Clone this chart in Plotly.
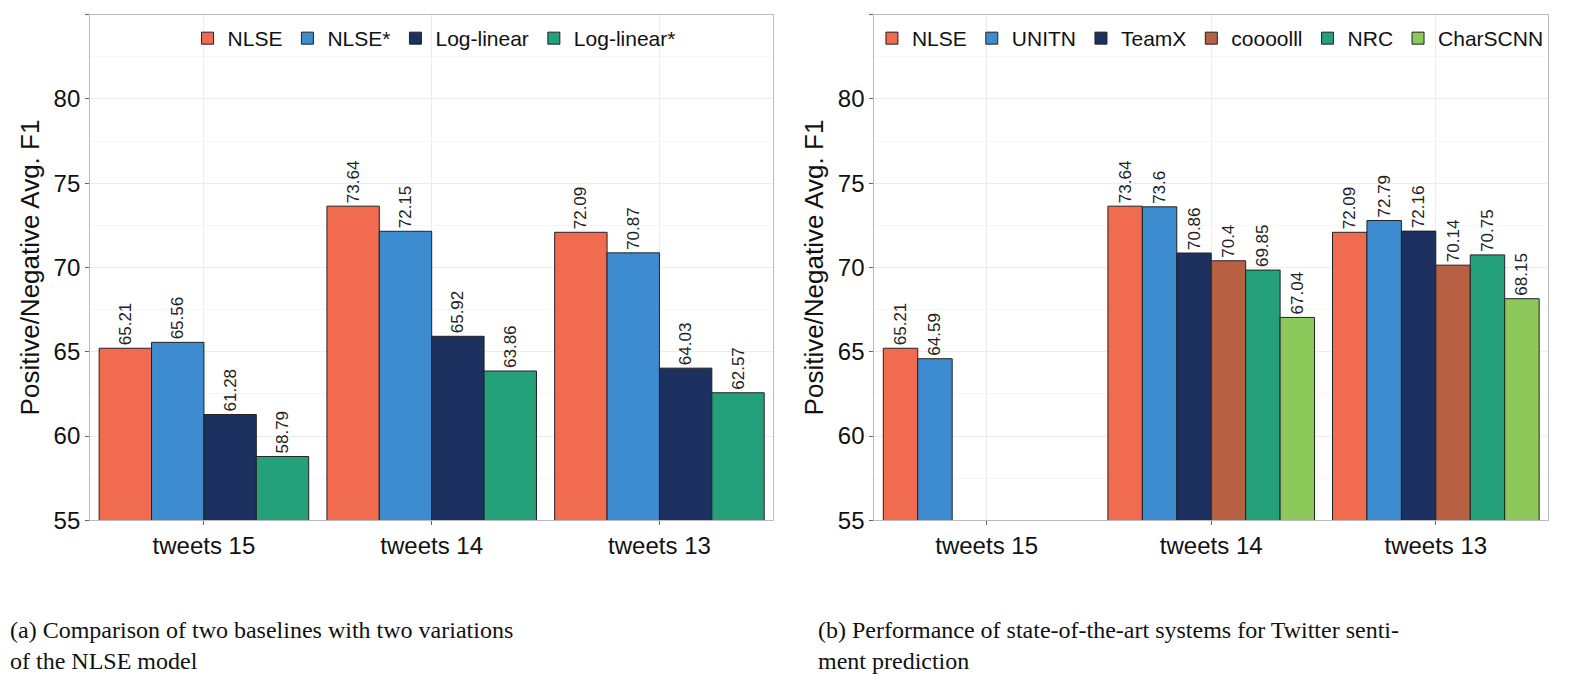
import plotly.graph_objects as go

groups = ["tweets 15", "tweets 14", "tweets 13"]

# left panel
left_names = ["NLSE", "NLSE*", "Log-linear", "Log-linear*"]
left_colors = ["#f06b50", "#3d8ccf", "#1c3160", "#24a07a"]
nlse = [65.21, 73.64, 72.09]
nlse_star = [65.56, 72.15, 70.87]
loglin = [61.28, 65.92, 64.03]
loglin_star = [58.79, 63.86, 62.57]
left_vals = [nlse, nlse_star, loglin, loglin_star]

# right panel
right_names = ["NLSE", "UNITN", "TeamX", "coooolll", "NRC", "CharSCNN"]
right_colors = ["#f06b50", "#3d8ccf", "#1c3160", "#b86044", "#24a07a", "#8cc85a"]
r_nlse = [65.21, 73.64, 72.09]
r_unitn = [64.59, 73.6, 72.79]
r_teamx = [None, 70.86, 72.16]
r_cool = [None, 70.4, 70.14]
r_nrc = [None, 69.85, 70.75]
r_char = [None, 67.04, 68.15]
right_vals = [r_nlse, r_unitn, r_teamx, r_cool, r_nrc, r_char]

fig = go.Figure()

def add_bars(names, colors, vals, xa, ya, leg):
    for n, c, v in zip(names, colors, vals):
        fig.add_trace(go.Bar(
            x=groups, y=v, name=n, marker=dict(color=c, line=dict(color="#222", width=1)),
            text=[("" if t is None else f"{t:g}") for t in v],
            textposition="outside", textangle=-90, cliponaxis=False, constraintext="none",
            textfont=dict(size=17, color="#222"),
            xaxis=xa, yaxis=ya, legend=leg,
        ))

add_bars(left_names, left_colors, left_vals, "x", "y", "legend")
add_bars(right_names, right_colors, right_vals, "x2", "y2", "legend2")

ax = dict(showline=True, linecolor="#bbb", mirror=True, showgrid=True, gridcolor="#ececec",
          tickfont=dict(size=24, color="#111"), ticks="outside", ticklen=4, tickcolor="#666")
yax = dict(ax, range=[55, 85], dtick=5, minor=dict(dtick=2.5, showgrid=True, gridcolor="#f5f5f5"),
           title=dict(text="Positive/Negative Avg. F1", font=dict(size=26, color="#111"), standoff=6))

leg = dict(orientation="h", xanchor="center", yanchor="top", font=dict(size=21, color="#111"),
           bgcolor="rgba(0,0,0,0)", itemwidth=30, tracegroupgap=0)

fig.update_layout(
    width=1578, height=681, plot_bgcolor="white", paper_bgcolor="white",
    font=dict(family="Liberation Sans"),
    margin=dict(l=0, r=0, t=0, b=0),
    barmode="group", bargap=0.08, bargroupgap=0,
    xaxis=dict(ax, domain=[0.052, 0.485], anchor="y"),
    yaxis=dict(yax, domain=[0.233, 0.99], anchor="x"),
    xaxis2=dict(ax, domain=[0.549, 0.976], anchor="y2"),
    yaxis2=dict(yax, domain=[0.233, 0.99], anchor="x2"),
    legend=dict(leg, x=0.27, y=0.985),
    legend2=dict(leg, x=0.762, y=0.985),
    annotations=[
        dict(text="(a) Comparison of two baselines with two variations<br>of the NLSE model",
             x=0.0, y=0.0, xref="paper", yref="paper", xanchor="left", yanchor="bottom",
             align="left", showarrow=False, font=dict(family="Liberation Serif", size=24, color="#111")),
        dict(text="(b) Performance of state-of-the-art systems for Twitter senti-<br>ment prediction",
             x=0.512, y=0.0, xref="paper", yref="paper", xanchor="left", yanchor="bottom",
             align="left", showarrow=False, font=dict(family="Liberation Serif", size=24, color="#111")),
    ],
)

fig.write_html("out.html")
